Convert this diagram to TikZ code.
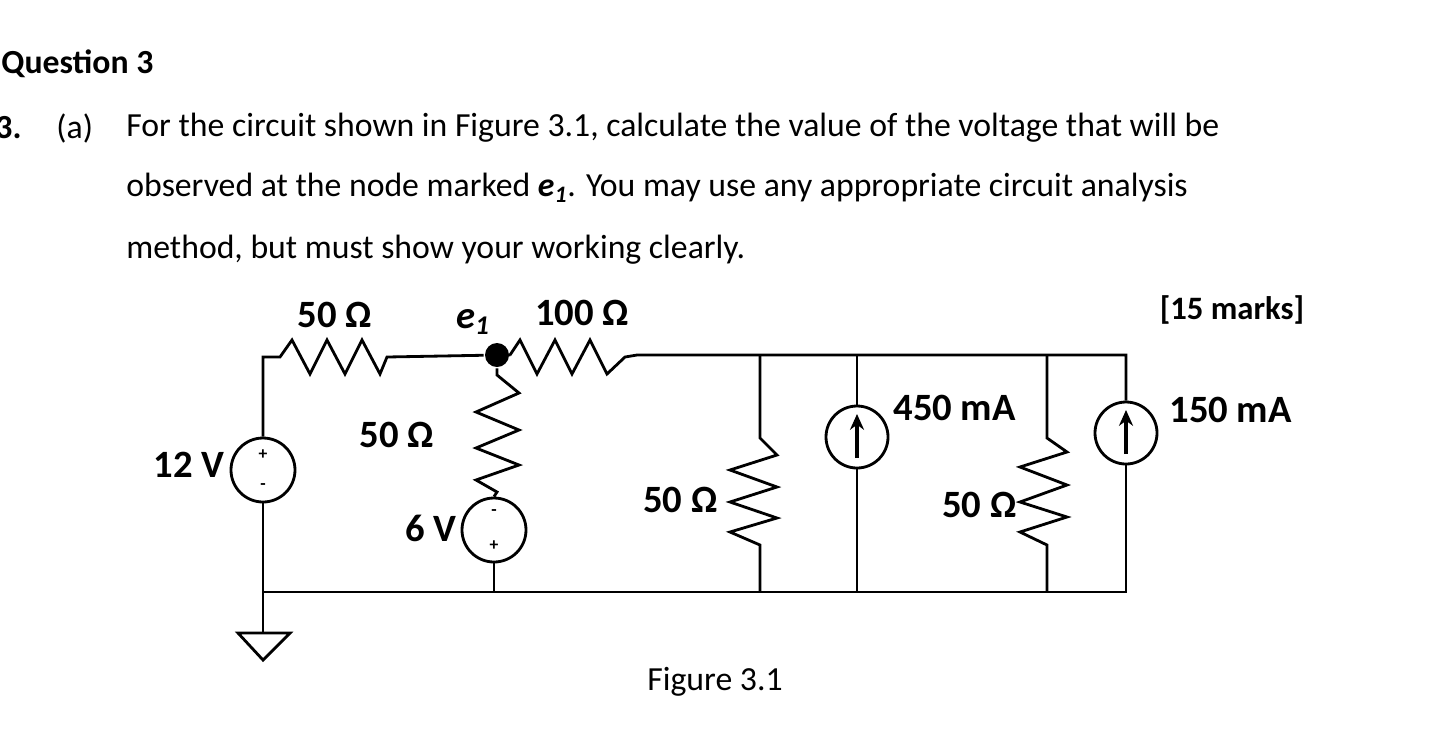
\documentclass[tikz,border=0pt]{standalone}
\usepackage{fontspec}
\setmainfont{Carlito}
\usetikzlibrary{arrows.meta}
\begin{document}
\begin{tikzpicture}[x=0.02cm,y=-0.02cm,line width=1.6pt,
  txt/.style={font=\fontsize{19.2}{22}\selectfont,anchor=west,inner sep=0},
  lbl/.style={font=\bfseries\fontsize{22}{24}\selectfont,inner sep=0},
  src/.style={draw,circle,minimum size=64*0.02cm,inner sep=0},
  pm/.style={font=\bfseries\fontsize{10}{11}\selectfont,inner sep=0},
  arr/.style={line width=2pt,-{Stealth[length=9pt,width=8pt]}}]
\useasboundingbox (0,0) rectangle (1434,745);

% header text
\node[txt,font=\bfseries\fontsize{19.2}{22}\selectfont] (q) at (0,64) {Question 3};
\node[txt,font=\bfseries\fontsize{19.2}{22}\selectfont] (n3) at (-6,128) {3.};
\node[txt] (pa) at (55,128) {(a)};
\node[txt] (l1) at (125,128) {For the circuit shown in Figure 3.1, calculate the value of the voltage that will be};
\node[txt] (l2) at (125,188) {observed at the node marked \textbf{\textit{e\textsubscript{1}}}. You may use any appropriate circuit analysis};
\node[txt] (l3) at (125,250) {method, but must show your working clearly.};
\node[lbl,font=\bfseries\fontsize{18.6}{21}\selectfont] (mk) at (1232,310) {[15 marks]};

% sources
\node[src] (v12) at (263,470) {};
\node[pm] at (263,455) {+};
\node[pm] at (263,487) {-};
\node[src] (v6) at (494,530) {};
\node[pm] at (494,513) {-};
\node[pm] at (494,546) {+};
\node[src,minimum size=62*0.02cm] (i450) at (857,437) {};
\node[src,minimum size=62*0.02cm] (i150) at (1126,433) {};
\draw[arr] (857,458) -- (857,414);
\draw[arr] (1126,454) -- (1126,410);

% node e1
\node[circle,fill=black,minimum size=24*0.02cm,inner sep=0] (e1) at (497,355) {};
\node[lbl,font=\bfseries\itshape\fontsize{22}{24}\selectfont] (e1l) at (473,322) {e\textsubscript{1}};

% coordinates
\coordinate (tl) at (263,357);
\coordinate (tr) at (1126,355);
\coordinate (bl) at (263,592);
\coordinate (br) at (1126,592);
\coordinate (g) at (263,633);

% left branch and 50 ohm
\draw (v12.south) -- (bl) -- (g);
\draw (v12.north) -- (tl) -- (280,357) -- (292,340) -- (310,374) -- (327,340) -- (345,374) -- (362,340) -- (380,374) -- (387,357) -- (e1);
\draw (238,633) -- (290,633) -- (263,660) -- cycle;

% 100 ohm
\draw (e1) -- (510,355) -- (520,340) -- (537,374) -- (555,340) -- (572,374) -- (590,340) -- (607,374) -- (625,357) -- (637,355) -- (tr) -- (i150.north);
\draw (i150.south) -- (br) -- (bl);

% vertical 50 ohm and 6 V
\draw (e1) -- (497,375) -- (519,393) -- (476,412) -- (519,430) -- (476,448) -- (519,465) -- (476,480) -- (497,492) -- (v6.north);
\draw (v6.south) -- (494,592);

% right 50 ohm
\draw (760,355) -- (760,438) -- (777,455) -- (730,470) -- (777,487) -- (730,502) -- (777,518) -- (730,532) -- (760,545) -- (760,592);
\draw (857,355) -- (i450.north);
\draw (i450.south) -- (857,592);
\draw (1047,355) -- (1047,438) -- (1067,452) -- (1020,467) -- (1067,485) -- (1020,502) -- (1067,517) -- (1020,532) -- (1047,545) -- (1047,592);

% labels
\node[lbl] (r1) at (335,315) {50 Ω};
\node[lbl] (r2) at (582,313) {100 Ω};
\node[lbl] (r3) at (397,435) {50 Ω};
\node[lbl,anchor=east] (r4) at (719,500) {50 Ω};
\node[lbl,anchor=east] (r5) at (1018,505) {50 Ω};
\node[lbl,anchor=east] (s1) at (226,465) {12 V};
\node[lbl,anchor=east] (s2) at (458,528) {6 V};
\node[lbl,anchor=west] (s3) at (892,408) {450 mA};
\node[lbl,anchor=west] (s4) at (1168,410) {150 mA};
\node[txt,anchor=center] (fig) at (715,682) {Figure 3.1};
\end{tikzpicture}
\end{document}
